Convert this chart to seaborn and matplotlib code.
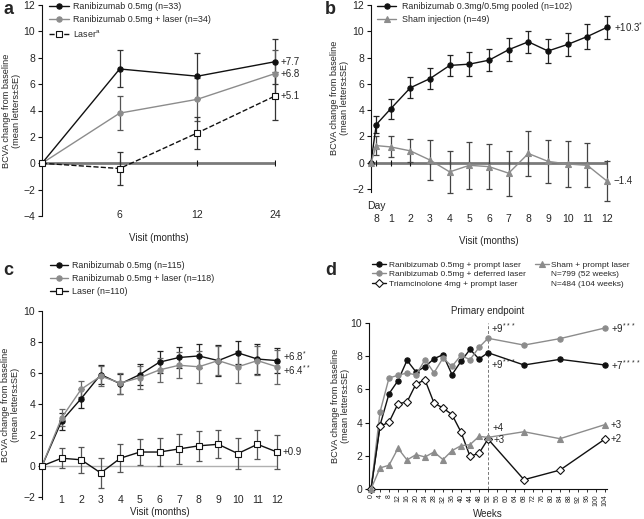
import numpy as np
import matplotlib
matplotlib.use("Agg")
import matplotlib.pyplot as plt
import seaborn as sns

sns.set_theme(style="white")
plt.rcParams['font.family'] = ['Liberation Sans', 'DejaVu Sans']
plt.rcParams['mathtext.default'] = 'regular'

BLACK = '#111111'
GREY = '#8c8c8c'
ZERO_GREY = '#7a7a7a'
YLABEL = 'BCVA change from baseline\n(mean letters\u00b1SE)'
LEG_FS = 6.4
ANN_FS = 7

# ---------------- panel a data ----------------
a_labels = ['', '6', '12', '24']  # visit (months), evenly spaced
a_rani = [0, 7.15, 6.6, 7.7]
a_rani_se = [0, 1.4, 1.75, 1.7]
a_combo = [0, 3.8, 4.85, 6.8]
a_combo_se = [0, 1.27, 1.65, 1.8]
a_laser = [0, -0.4, 2.3, 5.1]
a_laser_se = [0, 1.25, 1.2, 1.85]

# ---------------- panel b data ----------------
b_x = [0, 8 / 30, 1, 2, 3, 4, 5, 6, 7, 8, 9, 10, 11, 12]
b_tick_labels = ['8', '1', '2', '3', '4', '5', '6', '7', '8', '9', '10', '11', '12']
b_rani = [0, 2.9, 4.1, 5.7, 6.4, 7.4, 7.5, 7.8, 8.6, 9.2, 8.5, 9.0, 9.6, 10.3]
b_rani_se = [0, 0.65, 0.77, 0.8, 0.8, 0.83, 0.93, 0.85, 0.88, 0.85, 0.95, 0.9, 0.95, 0.88]
b_sham = [0, 1.3, 1.2, 0.9, 0.2, -0.7, -0.2, -0.3, -0.8, 0.7, 0.1, -0.1, -0.2, -1.4]
b_sham_se = [0, 0.7, 0.8, 0.88, 1.5, 1.62, 1.8, 1.72, 1.7, 1.73, 1.65, 1.78, 1.68, 1.5]

# ---------------- panel c data ----------------
c_x = list(range(0, 13))
c_rani = [0, 2.9, 4.35, 5.9, 5.3, 5.9, 6.7, 7.0, 7.1, 6.8, 7.3, 6.9, 6.8]
c_rani_se = [0, 0.55, 0.6, 0.6, 0.65, 0.65, 0.7, 0.7, 0.75, 1.0, 0.75, 0.95, 0.8]
c_combo = [0, 3.1, 4.95, 5.8, 5.35, 5.7, 6.2, 6.5, 6.4, 6.8, 6.4, 6.8, 6.4]
c_combo_se = [0, 0.55, 0.52, 0.65, 0.68, 0.72, 0.75, 0.85, 1.05, 0.95, 1.05, 0.95, 1.1]
c_laser = [0, 0.5, 0.4, -0.45, 0.5, 0.9, 0.9, 1.1, 1.3, 1.4, 0.8, 1.4, 0.9]
c_laser_se = [0, 0.65, 0.85, 0.95, 0.92, 0.85, 0.92, 0.97, 0.95, 0.9, 0.98, 0.95, 1.08]

# ---------------- panel d data ----------------
d_weeks = [0, 4, 8, 12, 16, 20, 24, 28, 32, 36, 40, 44, 48, 52, 68, 84, 104]
d_prompt = [0, 3.84, 5.74, 6.53, 7.75, 7.05, 7.37, 7.85, 8.09, 6.89, 7.69, 8.41, 7.83, 8.21, 7.47, 7.81, 7.47]
d_deferred = [0, 4.64, 6.69, 6.85, 6.99, 6.87, 7.79, 7.0, 7.89, 7.39, 8.05, 7.79, 8.53, 9.08, 8.67, 9.06, 9.7]
d_triam = [0, 3.78, 4.02, 5.14, 5.24, 6.33, 6.57, 5.18, 4.88, 4.48, 3.43, 1.97, 2.15, 3.01, 0.56, 1.14, 3.01]
d_sham = [0, 1.27, 1.43, 2.45, 1.75, 2.07, 1.93, 2.23, 1.77, 2.31, 2.61, 2.67, 3.17, 3.11, 3.45, 3.03, 3.88]
d_ticks = list(range(0, 105, 4))


def series(ax, x, y, se, color, marker, label, mfc=None, ms=3.8, ls='-', ecolor=None):
    x = np.asarray(x, dtype=float)
    y = np.asarray(y, dtype=float)
    if se is not None:
        se = np.asarray(se, dtype=float)
        m = se > 0
        ax.errorbar(x[m], y[m], yerr=se[m], fmt='none', ecolor=ecolor or color,
                    elinewidth=0.9, capsize=2, capthick=0.9, clip_on=False, zorder=2)
    sns.lineplot(x=x, y=y, ax=ax, color=color, lw=1.0, linestyle=ls, marker=marker,
                 markersize=ms, markerfacecolor=mfc or color, markeredgecolor=BLACK if mfc else color,
                 markeredgewidth=0.8, label=label, legend=False, zorder=3, clip_on=False)


def style_axis(ax, ylim, yticks, label_x):
    ax.set_ylim(*ylim)
    ax.set_yticks(yticks)
    for s in ['top', 'right', 'bottom']:
        ax.spines[s].set_visible(False)
    ax.spines['left'].set_color(BLACK)
    ax.spines['left'].set_linewidth(0.8)
    ax.tick_params(axis='y', left=True, length=3, width=0.8, color=BLACK, labelsize=7.5, pad=2)
    ax.tick_params(axis='x', bottom=False, length=0, labelsize=7.5)
    ax.set_ylabel(YLABEL, fontsize=6.6, linespacing=1.1)
    ax.yaxis.set_label_coords(label_x, 0.5)
    ax.grid(False)


fig = plt.figure(figsize=(6.44, 5.19), dpi=100)
W, H = 644.0, 519.0


def add_axes(x0, x1, ytop, ybot):
    return fig.add_axes([x0 / W, 1 - ybot / H, (x1 - x0) / W, (ybot - ytop) / H])


def note(ax, text, x, y, dx=4, dy=0, va='center'):
    ax.annotate(text, xy=(x, y), xytext=(dx, dy), textcoords='offset points',
                va=va, fontsize=ANN_FS, annotation_clip=False)


# ================= panel a =================
ax = add_axes(42, 275, 5, 216)
ax.set_xlim(0, 3)
style_axis(ax, (-4, 12), np.arange(-4, 13, 2), -0.09)
ax.axhline(0, color=ZERO_GREY, lw=2, zorder=1)
pos = np.arange(len(a_labels))
ax.plot(pos[1:], np.zeros(len(pos) - 1), ls='none', marker='|', ms=5, mew=0.8, color=BLACK, zorder=1)
series(ax, pos, a_rani, a_rani_se, BLACK, 'o', 'Ranibizumab 0.5mg (n=33)', ecolor='#333333')
series(ax, pos, a_combo, a_combo_se, GREY, 'o', 'Ranibizumab 0.5mg + laser (n=34)', ecolor='#555555')
series(ax, pos, a_laser, a_laser_se, BLACK, 's', 'Laser$^{a}$', mfc='white', ms=4.2, ls='--', ecolor='#333333')
ax.set_xticks(pos)
ax.set_xticklabels(a_labels)
ax.tick_params(axis='x', pad=-4)
ax.set_xlabel('Visit (months)', fontsize=7, labelpad=9)
for v in [a_rani[-1], a_combo[-1], a_laser[-1]]:
    note(ax, f'+{v:.1f}', pos[-1], v)
ax.legend(loc='upper left', bbox_to_anchor=(0.03, 1.015), frameon=False, fontsize=LEG_FS,
          handlelength=2.2, handletextpad=0.5, labelspacing=0.45, borderpad=0, borderaxespad=0)

# ================= panel b =================
ax = add_axes(371, 607, 5, 191.6)
ax.set_xlim(0, 12)
style_axis(ax, (-2.2, 12), np.arange(-2, 13, 2), -0.093)
ax.axhline(0, color=ZERO_GREY, lw=2, zorder=1)
ax.plot(b_x[1:], np.zeros(len(b_x) - 1), ls='none', marker='|', ms=5, mew=0.8, color=BLACK, zorder=1)
series(ax, b_x, b_rani, b_rani_se, BLACK, 'o', 'Ranibizumab 0.3mg/0.5mg pooled (n=102)', ecolor='#222222')
series(ax, b_x, b_sham, b_sham_se, GREY, '^', 'Sham injection (n=49)', ms=4.2, ecolor='#444444')
ax.set_xticks(b_x[1:])
ax.set_xticklabels(b_tick_labels)
ax.tick_params(axis='x', pad=16)
ax.text(b_x[1], -0.077, 'Day', transform=ax.get_xaxis_transform(), ha='center', va='center', fontsize=7.5)
ax.set_xlabel('Visit (months)', fontsize=7, labelpad=9)
note(ax, '+10.3$^{*}$', b_x[-1], b_rani[-1], dx=5)
note(ax, '\u22121.4', b_x[-1], b_sham[-1], dx=5)
ax.legend(loc='upper left', bbox_to_anchor=(0.025, 1.016), frameon=False, fontsize=LEG_FS,
          handlelength=2.2, handletextpad=0.6, labelspacing=0.45, borderpad=0, borderaxespad=0)

# ================= panel c =================
ax = add_axes(42, 277, 311, 499.3)
ax.set_xlim(0, 12)
style_axis(ax, (-2.15, 10), np.arange(-2, 11, 2), -0.094)
ax.axhline(0, color='#b0b0b0', lw=1, zorder=1)
series(ax, c_x, c_rani, c_rani_se, BLACK, 'o', 'Ranibizumab 0.5mg (n=115)', ecolor='#222222')
series(ax, c_x, c_combo, c_combo_se, GREY, 'o', 'Ranibizumab 0.5mg + laser (n=118)', ecolor='#666666')
series(ax, c_x, c_laser, c_laser_se, BLACK, 's', 'Laser (n=110)', mfc='white', ms=4.2, ecolor='#555555')
ax.set_xticks(c_x[1:])
ax.set_xticklabels([str(v) for v in c_x[1:]])
ax.tick_params(axis='x', pad=-3)
ax.set_xlabel('Visit (months)', fontsize=7, labelpad=1.5)
note(ax, '+6.8$^{*}$', c_x[-1], c_rani[-1], dy=3)
note(ax, '+6.4$^{**}$', c_x[-1], c_combo[-1], dy=-2.5)
note(ax, '+0.9', c_x[-1], c_laser[-1])
ax.legend(loc='upper left', bbox_to_anchor=(0.034, 1.265), frameon=False, fontsize=LEG_FS,
          handlelength=2.0, handletextpad=0.5, labelspacing=0.45, borderpad=0, borderaxespad=0)

# ================= panel d =================
ax = add_axes(369, 607, 323, 489)
ax.set_xlim(-0.9, 104.9)
style_axis(ax, (0, 10), np.arange(0, 11, 2), -0.08)
ax.spines['bottom'].set_visible(True)
ax.spines['bottom'].set_color(BLACK)
ax.spines['bottom'].set_linewidth(0.8)
ax.axvline(52, color='#777777', lw=0.7, ls=(0, (3, 2)), zorder=1)
series(ax, d_weeks, d_prompt, None, BLACK, 'o', 'Ranibizumab 0.5mg + prompt laser')
series(ax, d_weeks, d_deferred, None, GREY, 'o', 'Ranibizumab 0.5mg + deferred laser')
series(ax, d_weeks, d_triam, None, BLACK, 'D', 'Triamcinolone 4mg + prompt laser', mfc='white', ms=4.2)
series(ax, d_weeks, d_sham, None, GREY, '^', 'Sham + prompt laser', ms=4.4)
ax.set_xticks(d_ticks)
ax.set_xticklabels([str(v) for v in d_ticks], rotation=90, fontsize=5)
ax.tick_params(axis='x', bottom=True, length=2.5, width=0.6, color=BLACK, pad=1.5)
ax.set_xlabel('Weeks', fontsize=7, labelpad=2)
ax.text(52, 10.45, 'Primary endpoint', ha='center', va='bottom', fontsize=7)
note(ax, '+9$^{***}$', 52, d_deferred[13], dx=2, dy=2, va='bottom')
note(ax, '+9$^{***}$', 52, d_prompt[13], dx=2, dy=-3, va='top')
note(ax, '+4', 52, d_sham[13], dx=3, dy=3, va='bottom')
note(ax, '+3', 52, d_triam[13], dx=4, dy=-1)
note(ax, '+9$^{***}$', 104, d_deferred[-1])
note(ax, '+7$^{****}$', 104, d_prompt[-1])
note(ax, '+3', 104, d_sham[-1])
note(ax, '+2', 104, d_triam[-1])
h, l = ax.get_legend_handles_labels()
blank = plt.Line2D([], [], color='none')
ax.legend(h + [blank, blank], l + ['N=799 (52 weeks)', 'N=484 (104 weeks)'], ncol=2,
          loc='upper left', bbox_to_anchor=(0.013, 1.375), frameon=False, fontsize=6.0,
          handlelength=1.7, handletextpad=0.3, labelspacing=0.2, columnspacing=1.1,
          borderpad=0, borderaxespad=0)

# panel letters
for x, y, t in [(3, 1, 'a'), (325, 1, 'b'), (3, 262, 'c'), (325, 262, 'd')]:
    fig.text(x / W, 1 - y / H, t, ha='left', va='top', fontsize=13, fontweight='bold')

fig.savefig('out.png', dpi=100)
